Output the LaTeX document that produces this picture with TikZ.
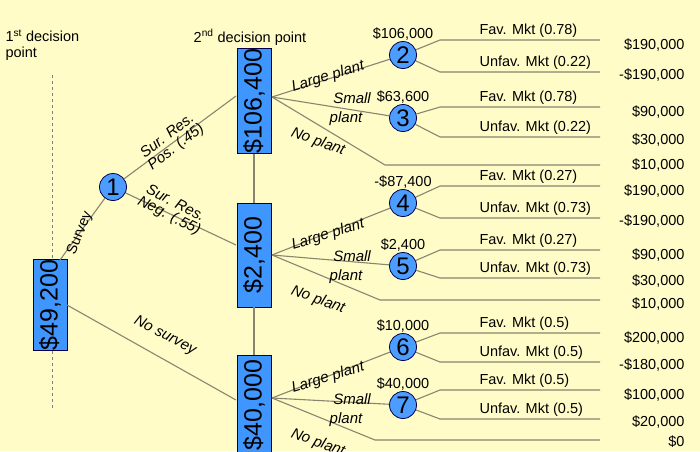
\documentclass[tikz,border=0pt]{standalone}
\usepackage{fontspec}
\setmainfont{Liberation Sans}
\begin{document}
\begin{tikzpicture}[x=1pt,y=-1pt,
  ln/.style={draw=black!60!yellow!40!gray,line width=1.1pt},
  dbox/.style={draw=black!70!blue,fill=blue!55!cyan!75!white,line width=0.8pt,minimum width=34pt,inner sep=0pt},
  cnode/.style={circle,draw=black!70!blue,fill=blue!55!cyan!70!white,line width=0.8pt,minimum size=27pt,inner sep=0pt,font=\fontsize{24}{24}\selectfont},
  sm/.style={font=\fontsize{14.5}{16}\selectfont},
  el/.style={font=\fontsize{15}{14}\selectfont\itshape}]
\fill[yellow!22!white] (0,0) rectangle (700,451);
\useasboundingbox (0,0) rectangle (700,451);
\draw[dashed,gray,line width=0.8pt] (52,75) -- (52,410);
\node[sm,align=left,anchor=north west] (t1) at (2,26) {1\textsuperscript{st} decision\\point};
\node[sm,anchor=north] (t2) at (250,26) {2\textsuperscript{nd} decision point};
% boxes
\node[dbox,minimum height=90pt] (A) at (50,305) {\rotatebox{90}{\fontsize{25}{25}\selectfont\$49,200}};
\node[dbox,minimum height=102pt] (B) at (254,101) {\rotatebox{90}{\fontsize{25}{25}\selectfont\$106,400}};
\node[dbox,minimum height=104pt] (C) at (254,255) {\rotatebox{90}{\fontsize{25}{25}\selectfont\$2,400}};
\node[dbox,minimum height=100pt] (D) at (254,405) {\rotatebox{90}{\fontsize{25}{25}\selectfont\$40,000}};
\draw[ln] (B.south) -- (C.north);
\draw[ln] (C.south) -- (D.north);
% circles
\node[cnode] (n1) at (113,187) {1};
\node[cnode] (n2) at (403,55) {2};
\node[cnode] (n3) at (403,118) {3};
\node[cnode] (n4) at (403,203) {4};
\node[cnode] (n5) at (403,266) {5};
\node[cnode] (n6) at (403,347) {6};
\node[cnode] (n7) at (403,405) {7};
% first level
\coordinate (a1) at (60,260);
\draw[ln] (a1) -- (n1);
\coordinate (a2) at (67,305);
\draw[ln] (a2) -- (236,400);
\draw[ln] (n1) -- (236,96);
\draw[ln] (n1) -- (236,245);
\node[sm,rotate=68] (lsv) at (80,233) {Survey};
\node[el,rotate=-27] (lns) at (165,336) {No survey};
\node[el,rotate=38,align=center] (lpos) at (172,142) {Sur. Res.\\Pos. (.45)};
\node[el,rotate=-27,align=center] (lneg) at (172,210) {Sur. Res.\\Neg. (.55)};
% second level
\foreach \by/\ca/\cb/\ny/\nx in {97/n2/n3/165/385, 255/n4/n5/300/380, 398/n6/n7/440/375}{
  \coordinate (s) at (272,\by);
  \draw[ln] (s) -- (\ca);
  \draw[ln] (s) -- (\cb);
  \draw[ln] (s) -- (\nx,\ny) -- (600,\ny);
  \node[el,rotate=17] at (328,\by-20) {Large plant};
  \node[el] at (352,\by+1) {Small};
  \node[el] at (346,\by+22) {plant};
  \node[el,rotate=-20] at (318,\by+45) {No plant};
}
% third level
\foreach \c/\fy/\uy/\ft/\ut/\fv/\uv/\ev in {
  n2/40/72/{Fav. Mkt (0.78)}/{Unfav. Mkt (0.22)}/{\$190,000}/{-\$190,000}/{\$106,000},
  n3/107/137/{Fav. Mkt (0.78)}/{Unfav. Mkt (0.22)}/{\$90,000}/{\$30,000}/{\$63,600},
  n4/186/218/{Fav. Mkt (0.27)}/{Unfav. Mkt (0.73)}/{\$190,000}/{-\$190,000}/{-\$87,400},
  n5/250/278/{Fav. Mkt (0.27)}/{Unfav. Mkt (0.73)}/{\$90,000}/{\$30,000}/{\$2,400},
  n6/333/362/{Fav. Mkt (0.5)}/{Unfav. Mkt (0.5)}/{\$200,000}/{-\$180,000}/{\$10,000},
  n7/390/419/{Fav. Mkt (0.5)}/{Unfav. Mkt (0.5)}/{\$100,000}/{\$20,000}/{\$40,000}}{
  \draw[ln] (\c) -- (440,\fy) -- (600,\fy);
  \draw[ln] (\c) -- (440,\uy) -- (600,\uy);
  \node[sm,anchor=west] at (476,\fy-9) {\ft};
  \node[sm,anchor=west] at (476,\uy-9) {\ut};
  \node[sm,anchor=east] at (688,\fy+5) {\fv};
  \node[sm,anchor=east] at (688,\uy+3) {\uv};
  \node[sm] at ([yshift=21pt]\c.center) {\ev};
}
\node[sm,anchor=east] (e1) at (688,165) {\$10,000};
\node[sm,anchor=east] (e2) at (688,304) {\$10,000};
\node[sm,anchor=east] (e3) at (688,442) {\$0};
\end{tikzpicture}
\end{document}
